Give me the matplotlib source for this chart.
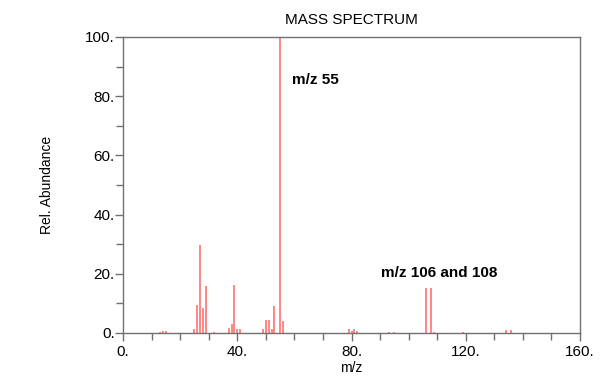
import matplotlib
matplotlib.use("Agg")
import matplotlib.pyplot as plt
from matplotlib.ticker import MultipleLocator, FuncFormatter

# peaks (m/z, relative abundance %)
mz = [13, 14, 15, 25, 26, 27, 28, 29, 32, 37, 38, 39, 40, 41,
      49, 50, 51, 52, 53, 55, 56, 79, 80, 81, 82, 93, 95,
      106, 108, 109, 119, 134, 136]
abundance = [0.5, 0.6, 0.6, 1.2, 9.3, 29.6, 8.3, 16.0, 0.3, 1.7, 3.0, 16.3, 1.4, 1.2,
             1.2, 4.5, 4.3, 1.4, 9.0, 100.0, 4.0, 1.4, 0.6, 1.5, 0.6, 0.5, 0.5,
             15.3, 15.3, 0.5, 0.2, 1.0, 1.0]

x_ticks = [0, 40, 80, 120, 160]
y_ticks = [0, 20, 40, 60, 80, 100]

plt.rcParams['font.family'] = ['Liberation Sans', 'DejaVu Sans']
axis_col = "#707070"

fig = plt.figure(figsize=(6.08, 3.76), dpi=100)
ax = fig.add_axes([123 / 608, 1 - 333 / 376, 457 / 608, 296 / 376])

ax.vlines(mz, 0, abundance, colors="#ff6464", linewidth=1.1)

ax.set_xlim(0, 160)
ax.set_ylim(0, 100)
ax.set_xticks(x_ticks)
ax.set_yticks(y_ticks)
ax.xaxis.set_minor_locator(MultipleLocator(10))
ax.yaxis.set_minor_locator(MultipleLocator(10))
fmt = FuncFormatter(lambda v, p: "%d." % v)
ax.xaxis.set_major_formatter(fmt)
ax.yaxis.set_major_formatter(fmt)

for s in ax.spines.values():
    s.set_color(axis_col)
    s.set_linewidth(1.0)
ax.tick_params(which="both", direction="out", color=axis_col, width=1.0,
               labelsize=11, labelcolor="black")
ax.tick_params(which="major", length=6)
ax.tick_params(which="minor", length=5)
ax.tick_params(axis="y", pad=0)
ax.tick_params(axis="x", pad=3)

ax.set_title("MASS SPECTRUM", fontsize=11, pad=9)
ax.set_xlabel("m/z", fontsize=10, labelpad=1)
ax.set_ylabel("Rel. Abundance", fontsize=10, labelpad=22)

ax.text(59.2, 85.5, "m/z 55", fontsize=11, fontweight="bold", va="center")
ax.text(90.3, 20.3, "m/z 106 and 108", fontsize=11, fontweight="bold", va="center")

fig.savefig("out.png", dpi=100)
